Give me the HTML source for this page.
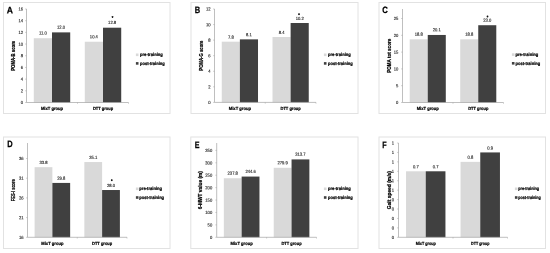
<!DOCTYPE html>
<html lang="en"><head><meta charset="utf-8"><title>Figure: outcome measures pre- and post-training</title>
<style>html,body{margin:0;padding:0;background:#fff}svg{display:block}text{font-family:"Liberation Sans",sans-serif;fill:#1a1a1a}.s{font-size:4.5px;stroke:#222;stroke-width:.12px}.b{font-size:4.5px;font-weight:bold;fill:#000;stroke:#000;stroke-width:.22px}.L{font-size:9.2px;font-weight:bold;fill:#000;stroke:#000;stroke-width:.25px}</style></head><body>
<svg width="550" height="253" viewBox="0 0 550 253">
<rect width="550" height="253" fill="#fff"/>
<g>
<rect x="3.5" y="2.5" width="166.5" height="111" fill="#fff" stroke="#e2e2e2" stroke-width="1"/>
<text transform="rotate(.03 6.8 13.2)" class="L" x="6.8" y="13.2" textLength="6.2" lengthAdjust="spacingAndGlyphs">A</text>
<rect x="33.78" y="38.22" width="18.22" height="64.28" fill="#d9d9d9"/>
<text transform="rotate(.03 42.89 34.63) translate(42.89 0) scale(.92 1) translate(-42.89 0)" class="s" text-anchor="middle" x="42.89" y="34.63">11.0</text>
<rect x="52" y="32.38" width="18.22" height="70.12" fill="#404040"/>
<text transform="rotate(.03 61.11 28.79) translate(61.11 0) scale(.92 1) translate(-61.11 0)" class="s" text-anchor="middle" x="61.11" y="28.79">12.0</text>
<rect x="84.78" y="41.73" width="18.22" height="60.77" fill="#d9d9d9"/>
<text transform="rotate(.03 93.89 38.14) translate(93.89 0) scale(.92 1) translate(-93.89 0)" class="s" text-anchor="middle" x="93.89" y="38.14">10.4</text>
<rect x="103" y="27.7" width="18.22" height="74.8" fill="#404040"/>
<text transform="rotate(.03 112.11 24.11) translate(112.11 0) scale(.92 1) translate(-112.11 0)" class="s" text-anchor="middle" x="112.11" y="24.11">12.8</text>
<text transform="rotate(.03 112.41 18.9) translate(112.41 0) scale(.92 1) translate(-112.41 0)" class="s" text-anchor="middle" x="112.41" y="18.9" style="font-size:4.2px;font-weight:bold;fill:#000;stroke:#000;stroke-width:.3px">*</text>
<path d="M26.5 9V102.5H128.5" fill="none" stroke="#a4a4a4" stroke-width="0.7"/>
<path d="M26.5 102.5h-1.3M26.5 90.81h-1.3M26.5 79.12h-1.3M26.5 67.44h-1.3M26.5 55.75h-1.3M26.5 44.06h-1.3M26.5 32.38h-1.3M26.5 20.69h-1.3M26.5 9h-1.3M77.5 102.5v1.2M128.5 102.5v1.2" fill="none" stroke="#a4a4a4" stroke-width="0.6"/>
<text transform="rotate(.03 23.1 104.11) translate(23.1 0) scale(.92 1) translate(-23.1 0)" class="s" text-anchor="end" x="23.1" y="104.11">0</text>
<text transform="rotate(.03 23.1 92.42) translate(23.1 0) scale(.92 1) translate(-23.1 0)" class="s" text-anchor="end" x="23.1" y="92.42">2</text>
<text transform="rotate(.03 23.1 80.74) translate(23.1 0) scale(.92 1) translate(-23.1 0)" class="s" text-anchor="end" x="23.1" y="80.74">4</text>
<text transform="rotate(.03 23.1 69.05) translate(23.1 0) scale(.92 1) translate(-23.1 0)" class="s" text-anchor="end" x="23.1" y="69.05">6</text>
<text transform="rotate(.03 23.1 57.36) translate(23.1 0) scale(.92 1) translate(-23.1 0)" class="s" text-anchor="end" x="23.1" y="57.36">8</text>
<text transform="rotate(.03 23.1 45.67) translate(23.1 0) scale(.92 1) translate(-23.1 0)" class="s" text-anchor="end" x="23.1" y="45.67">10</text>
<text transform="rotate(.03 23.1 33.99) translate(23.1 0) scale(.92 1) translate(-23.1 0)" class="s" text-anchor="end" x="23.1" y="33.99">12</text>
<text transform="rotate(.03 23.1 22.3) translate(23.1 0) scale(.92 1) translate(-23.1 0)" class="s" text-anchor="end" x="23.1" y="22.3">14</text>
<text transform="rotate(.03 23.1 10.61) translate(23.1 0) scale(.92 1) translate(-23.1 0)" class="s" text-anchor="end" x="23.1" y="10.61">16</text>
<text class="b" text-anchor="middle" textLength="30" lengthAdjust="spacingAndGlyphs" transform="translate(15.01 55.75) rotate(-90)">POMA-B score</text>
<text transform="rotate(.03 52 110.11)" class="b" text-anchor="middle" textLength="22.2" lengthAdjust="spacingAndGlyphs" x="52" y="110.11">MixT group</text>
<text transform="rotate(.03 103 110.11)" class="b" text-anchor="middle" textLength="20.2" lengthAdjust="spacingAndGlyphs" x="103" y="110.11">DTT group</text>
<rect x="135.9" y="53.5" width="2.6" height="2.6" fill="#d9d9d9"/>
<text transform="rotate(.03 140 56.11)" class="b" textLength="22.8" lengthAdjust="spacingAndGlyphs" x="140" y="56.11">pre-training</text>
<rect x="135.9" y="62.1" width="2.6" height="2.6" fill="#404040"/>
<text transform="rotate(.03 140 64.71)" class="b" textLength="24.8" lengthAdjust="spacingAndGlyphs" x="140" y="64.71">post-training</text>
</g>
<g>
<rect x="191" y="2.5" width="167" height="111" fill="#fff" stroke="#e2e2e2" stroke-width="1"/>
<text transform="rotate(.03 194.8 13.2)" class="L" x="194.8" y="13.2" textLength="5.4" lengthAdjust="spacingAndGlyphs">B</text>
<rect x="221.75" y="41.69" width="18.13" height="60.71" fill="#d9d9d9"/>
<text transform="rotate(.03 230.81 38.7) translate(230.81 0) scale(.92 1) translate(-230.81 0)" class="s" text-anchor="middle" x="230.81" y="38.7">7.8</text>
<rect x="239.88" y="39.36" width="18.13" height="63.05" fill="#404040"/>
<text transform="rotate(.03 248.94 36.37) translate(248.94 0) scale(.92 1) translate(-248.94 0)" class="s" text-anchor="middle" x="248.94" y="36.37">8.1</text>
<rect x="272.5" y="37.02" width="18.13" height="65.38" fill="#d9d9d9"/>
<text transform="rotate(.03 281.56 34.03) translate(281.56 0) scale(.92 1) translate(-281.56 0)" class="s" text-anchor="middle" x="281.56" y="34.03">8.4</text>
<rect x="290.62" y="23.01" width="18.13" height="79.39" fill="#404040"/>
<text transform="rotate(.03 299.69 20.02) translate(299.69 0) scale(.92 1) translate(-299.69 0)" class="s" text-anchor="middle" x="299.69" y="20.02">10.2</text>
<text transform="rotate(.03 298.99 16.21) translate(298.99 0) scale(.92 1) translate(-298.99 0)" class="s" text-anchor="middle" x="298.99" y="16.21" style="font-size:4.2px;font-weight:bold;fill:#000;stroke:#000;stroke-width:.3px">*</text>
<path d="M214.5 9V102.4H316" fill="none" stroke="#a4a4a4" stroke-width="0.7"/>
<path d="M214.5 102.4h-1.3M214.5 86.83h-1.3M214.5 71.27h-1.3M214.5 55.7h-1.3M214.5 40.13h-1.3M214.5 24.57h-1.3M214.5 9h-1.3M265.25 102.4v1.2M316 102.4v1.2" fill="none" stroke="#a4a4a4" stroke-width="0.6"/>
<text transform="rotate(.03 210.6 104.01) translate(210.6 0) scale(.92 1) translate(-210.6 0)" class="s" text-anchor="end" x="210.6" y="104.01">0</text>
<text transform="rotate(.03 210.6 88.44) translate(210.6 0) scale(.92 1) translate(-210.6 0)" class="s" text-anchor="end" x="210.6" y="88.44">2</text>
<text transform="rotate(.03 210.6 72.88) translate(210.6 0) scale(.92 1) translate(-210.6 0)" class="s" text-anchor="end" x="210.6" y="72.88">4</text>
<text transform="rotate(.03 210.6 57.31) translate(210.6 0) scale(.92 1) translate(-210.6 0)" class="s" text-anchor="end" x="210.6" y="57.31">6</text>
<text transform="rotate(.03 210.6 41.74) translate(210.6 0) scale(.92 1) translate(-210.6 0)" class="s" text-anchor="end" x="210.6" y="41.74">8</text>
<text transform="rotate(.03 210.6 26.18) translate(210.6 0) scale(.92 1) translate(-210.6 0)" class="s" text-anchor="end" x="210.6" y="26.18">10</text>
<text transform="rotate(.03 210.6 10.61) translate(210.6 0) scale(.92 1) translate(-210.6 0)" class="s" text-anchor="end" x="210.6" y="10.61">12</text>
<text class="b" text-anchor="middle" textLength="30" lengthAdjust="spacingAndGlyphs" transform="translate(202.61 55.7) rotate(-90)">POMA-G score</text>
<text transform="rotate(.03 239.88 110.11)" class="b" text-anchor="middle" textLength="22.2" lengthAdjust="spacingAndGlyphs" x="239.88" y="110.11">MixT group</text>
<text transform="rotate(.03 290.62 110.11)" class="b" text-anchor="middle" textLength="20.2" lengthAdjust="spacingAndGlyphs" x="290.62" y="110.11">DTT group</text>
<rect x="323.9" y="53.5" width="2.6" height="2.6" fill="#d9d9d9"/>
<text transform="rotate(.03 328 56.11)" class="b" textLength="22.8" lengthAdjust="spacingAndGlyphs" x="328" y="56.11">pre-training</text>
<rect x="323.9" y="62.1" width="2.6" height="2.6" fill="#404040"/>
<text transform="rotate(.03 328 64.71)" class="b" textLength="24.8" lengthAdjust="spacingAndGlyphs" x="328" y="64.71">post-training</text>
</g>
<g>
<rect x="379" y="2.5" width="166.5" height="111" fill="#fff" stroke="#e2e2e2" stroke-width="1"/>
<text transform="rotate(.03 382.3 13.2)" class="L" x="382.3" y="13.2" textLength="5.6" lengthAdjust="spacingAndGlyphs">C</text>
<rect x="409.71" y="39.33" width="18.04" height="63.17" fill="#d9d9d9"/>
<text transform="rotate(.03 418.73 35.74) translate(418.73 0) scale(.92 1) translate(-418.73 0)" class="s" text-anchor="middle" x="418.73" y="35.74">18.8</text>
<rect x="427.75" y="34.96" width="18.04" height="67.54" fill="#404040"/>
<text transform="rotate(.03 436.77 31.38) translate(436.77 0) scale(.92 1) translate(-436.77 0)" class="s" text-anchor="middle" x="436.77" y="31.38">20.1</text>
<rect x="460.21" y="39.33" width="18.04" height="63.17" fill="#d9d9d9"/>
<text transform="rotate(.03 469.23 35.74) translate(469.23 0) scale(.92 1) translate(-469.23 0)" class="s" text-anchor="middle" x="469.23" y="35.74">18.8</text>
<rect x="478.25" y="25.22" width="18.04" height="77.28" fill="#404040"/>
<text transform="rotate(.03 487.27 21.63) translate(487.27 0) scale(.92 1) translate(-487.27 0)" class="s" text-anchor="middle" x="487.27" y="21.63">23.0</text>
<text transform="rotate(.03 487.57 18.42) translate(487.57 0) scale(.92 1) translate(-487.57 0)" class="s" text-anchor="middle" x="487.57" y="18.42" style="font-size:4.2px;font-weight:bold;fill:#000;stroke:#000;stroke-width:.3px">*</text>
<path d="M402.5 9V102.5H503.5" fill="none" stroke="#a4a4a4" stroke-width="0.7"/>
<path d="M402.5 102.5h-1.3M402.5 85.7h-1.3M402.5 68.9h-1.3M402.5 52.1h-1.3M402.5 35.3h-1.3M402.5 18.5h-1.3M453 102.5v1.2M503.5 102.5v1.2" fill="none" stroke="#a4a4a4" stroke-width="0.6"/>
<text transform="rotate(.03 398.3 104.11) translate(398.3 0) scale(.92 1) translate(-398.3 0)" class="s" text-anchor="end" x="398.3" y="104.11">0</text>
<text transform="rotate(.03 398.3 87.31) translate(398.3 0) scale(.92 1) translate(-398.3 0)" class="s" text-anchor="end" x="398.3" y="87.31">5</text>
<text transform="rotate(.03 398.3 70.51) translate(398.3 0) scale(.92 1) translate(-398.3 0)" class="s" text-anchor="end" x="398.3" y="70.51">10</text>
<text transform="rotate(.03 398.3 53.71) translate(398.3 0) scale(.92 1) translate(-398.3 0)" class="s" text-anchor="end" x="398.3" y="53.71">15</text>
<text transform="rotate(.03 398.3 36.91) translate(398.3 0) scale(.92 1) translate(-398.3 0)" class="s" text-anchor="end" x="398.3" y="36.91">20</text>
<text transform="rotate(.03 398.3 20.11) translate(398.3 0) scale(.92 1) translate(-398.3 0)" class="s" text-anchor="end" x="398.3" y="20.11">25</text>
<text class="b" text-anchor="middle" textLength="34" lengthAdjust="spacingAndGlyphs" transform="translate(391.11 55.75) rotate(-90)">POMA tot score</text>
<text transform="rotate(.03 427.75 110.11)" class="b" text-anchor="middle" textLength="22.2" lengthAdjust="spacingAndGlyphs" x="427.75" y="110.11">MixT group</text>
<text transform="rotate(.03 478.25 110.11)" class="b" text-anchor="middle" textLength="20.2" lengthAdjust="spacingAndGlyphs" x="478.25" y="110.11">DTT group</text>
<rect x="511.9" y="53.3" width="2.6" height="2.6" fill="#d9d9d9"/>
<text transform="rotate(.03 515.5 55.91)" class="b" textLength="22.8" lengthAdjust="spacingAndGlyphs" x="515.5" y="55.91">pre-training</text>
<rect x="511.9" y="62" width="2.6" height="2.6" fill="#404040"/>
<text transform="rotate(.03 515.5 64.61)" class="b" textLength="24.8" lengthAdjust="spacingAndGlyphs" x="515.5" y="64.61">post-training</text>
</g>
<g>
<rect x="3.5" y="137" width="166.5" height="111.5" fill="#fff" stroke="#e2e2e2" stroke-width="1"/>
<text transform="rotate(.03 7.3 147.2)" class="L" x="7.3" y="147.2" textLength="5.4" lengthAdjust="spacingAndGlyphs">D</text>
<rect x="34.6" y="167.17" width="17.77" height="70.13" fill="#d9d9d9"/>
<text transform="rotate(.03 43.49 164.08) translate(43.49 0) scale(.92 1) translate(-43.49 0)" class="s" text-anchor="middle" x="43.49" y="164.08">33.8</text>
<rect x="52.38" y="182.93" width="17.77" height="54.37" fill="#404040"/>
<text transform="rotate(.03 61.26 179.84) translate(61.26 0) scale(.92 1) translate(-61.26 0)" class="s" text-anchor="middle" x="61.26" y="179.84">29.8</text>
<rect x="84.35" y="162.05" width="17.77" height="75.25" fill="#d9d9d9"/>
<text transform="rotate(.03 93.24 158.96) translate(93.24 0) scale(.92 1) translate(-93.24 0)" class="s" text-anchor="middle" x="93.24" y="158.96">35.1</text>
<rect x="102.12" y="190.02" width="17.77" height="47.28" fill="#404040"/>
<text transform="rotate(.03 111.01 186.93) translate(111.01 0) scale(.92 1) translate(-111.01 0)" class="s" text-anchor="middle" x="111.01" y="186.93">28.0</text>
<text transform="rotate(.03 111.81 182.22) translate(111.81 0) scale(.92 1) translate(-111.81 0)" class="s" text-anchor="middle" x="111.81" y="182.22" style="font-size:4.2px;font-weight:bold;fill:#000;stroke:#000;stroke-width:.3px">*</text>
<path d="M27.5 143V237.3H127" fill="none" stroke="#a4a4a4" stroke-width="0.7"/>
<path d="M27.5 237.3h-1.3M27.5 217.6h-1.3M27.5 197.9h-1.3M27.5 178.2h-1.3M27.5 158.5h-1.3M77.25 237.3v1.2M127 237.3v1.2" fill="none" stroke="#a4a4a4" stroke-width="0.6"/>
<text transform="rotate(.03 23.6 238.91) translate(23.6 0) scale(.92 1) translate(-23.6 0)" class="s" text-anchor="end" x="23.6" y="238.91">16</text>
<text transform="rotate(.03 23.6 219.21) translate(23.6 0) scale(.92 1) translate(-23.6 0)" class="s" text-anchor="end" x="23.6" y="219.21">21</text>
<text transform="rotate(.03 23.6 199.51) translate(23.6 0) scale(.92 1) translate(-23.6 0)" class="s" text-anchor="end" x="23.6" y="199.51">26</text>
<text transform="rotate(.03 23.6 179.81) translate(23.6 0) scale(.92 1) translate(-23.6 0)" class="s" text-anchor="end" x="23.6" y="179.81">31</text>
<text transform="rotate(.03 23.6 160.11) translate(23.6 0) scale(.92 1) translate(-23.6 0)" class="s" text-anchor="end" x="23.6" y="160.11">36</text>
<text class="b" text-anchor="middle" textLength="22" lengthAdjust="spacingAndGlyphs" transform="translate(15.31 190.15) rotate(-90)">FES-I score</text>
<text transform="rotate(.03 52.38 244.81)" class="b" text-anchor="middle" textLength="22.2" lengthAdjust="spacingAndGlyphs" x="52.38" y="244.81">MixT group</text>
<text transform="rotate(.03 102.12 244.81)" class="b" text-anchor="middle" textLength="20.2" lengthAdjust="spacingAndGlyphs" x="102.12" y="244.81">DTT group</text>
<rect x="135.9" y="187.5" width="2.6" height="2.6" fill="#d9d9d9"/>
<text transform="rotate(.03 139.3 190.11)" class="b" textLength="22.8" lengthAdjust="spacingAndGlyphs" x="139.3" y="190.11">pre-training</text>
<rect x="135.9" y="196.2" width="2.6" height="2.6" fill="#404040"/>
<text transform="rotate(.03 139.3 198.81)" class="b" textLength="24.8" lengthAdjust="spacingAndGlyphs" x="139.3" y="198.81">post-training</text>
</g>
<g>
<rect x="190.8" y="137" width="167.2" height="111.5" fill="#fff" stroke="#e2e2e2" stroke-width="1"/>
<text transform="rotate(.03 194.8 147.6)" class="L" x="194.8" y="147.6" textLength="4.8" lengthAdjust="spacingAndGlyphs">E</text>
<rect x="223.83" y="178.25" width="17.82" height="59.05" fill="#d9d9d9"/>
<text transform="rotate(.03 232.74 174.67) translate(232.74 0) scale(.92 1) translate(-232.74 0)" class="s" text-anchor="middle" x="232.74" y="174.67">237.8</text>
<rect x="241.65" y="176.57" width="17.82" height="60.73" fill="#404040"/>
<text transform="rotate(.03 250.56 172.98) translate(250.56 0) scale(.92 1) translate(-250.56 0)" class="s" text-anchor="middle" x="250.56" y="172.98">244.6</text>
<rect x="273.73" y="167.8" width="17.82" height="69.5" fill="#d9d9d9"/>
<text transform="rotate(.03 282.64 164.21) translate(282.64 0) scale(.92 1) translate(-282.64 0)" class="s" text-anchor="middle" x="282.64" y="164.21">279.9</text>
<rect x="291.55" y="159.41" width="17.82" height="77.89" fill="#404040"/>
<text transform="rotate(.03 300.46 155.82) translate(300.46 0) scale(.92 1) translate(-300.46 0)" class="s" text-anchor="middle" x="300.46" y="155.82">313.7</text>
<path d="M216.7 143V237.3H316.5" fill="none" stroke="#a4a4a4" stroke-width="0.7"/>
<path d="M216.7 237.3h-1.3M216.7 224.89h-1.3M216.7 212.47h-1.3M216.7 200.06h-1.3M216.7 187.64h-1.3M216.7 175.23h-1.3M216.7 162.81h-1.3M216.7 150.4h-1.3M266.6 237.3v1.2M316.5 237.3v1.2" fill="none" stroke="#a4a4a4" stroke-width="0.6"/>
<text transform="rotate(.03 212.2 238.91) translate(212.2 0) scale(.92 1) translate(-212.2 0)" class="s" text-anchor="end" x="212.2" y="238.91">0</text>
<text transform="rotate(.03 212.2 226.5) translate(212.2 0) scale(.92 1) translate(-212.2 0)" class="s" text-anchor="end" x="212.2" y="226.5">50</text>
<text transform="rotate(.03 212.2 214.08) translate(212.2 0) scale(.92 1) translate(-212.2 0)" class="s" text-anchor="end" x="212.2" y="214.08">100</text>
<text transform="rotate(.03 212.2 201.67) translate(212.2 0) scale(.92 1) translate(-212.2 0)" class="s" text-anchor="end" x="212.2" y="201.67">150</text>
<text transform="rotate(.03 212.2 189.25) translate(212.2 0) scale(.92 1) translate(-212.2 0)" class="s" text-anchor="end" x="212.2" y="189.25">200</text>
<text transform="rotate(.03 212.2 176.84) translate(212.2 0) scale(.92 1) translate(-212.2 0)" class="s" text-anchor="end" x="212.2" y="176.84">250</text>
<text transform="rotate(.03 212.2 164.42) translate(212.2 0) scale(.92 1) translate(-212.2 0)" class="s" text-anchor="end" x="212.2" y="164.42">300</text>
<text transform="rotate(.03 212.2 152.01) translate(212.2 0) scale(.92 1) translate(-212.2 0)" class="s" text-anchor="end" x="212.2" y="152.01">350</text>
<text class="b" text-anchor="middle" textLength="38" lengthAdjust="spacingAndGlyphs" transform="translate(202.41 190.15) rotate(-90)">6-MWT value (m)</text>
<text transform="rotate(.03 241.65 244.81)" class="b" text-anchor="middle" textLength="22.2" lengthAdjust="spacingAndGlyphs" x="241.65" y="244.81">MixT group</text>
<text transform="rotate(.03 291.55 244.81)" class="b" text-anchor="middle" textLength="20.2" lengthAdjust="spacingAndGlyphs" x="291.55" y="244.81">DTT group</text>
<rect x="323.9" y="187.5" width="2.6" height="2.6" fill="#d9d9d9"/>
<text transform="rotate(.03 328 190.11)" class="b" textLength="22.8" lengthAdjust="spacingAndGlyphs" x="328" y="190.11">pre-training</text>
<rect x="323.9" y="196.2" width="2.6" height="2.6" fill="#404040"/>
<text transform="rotate(.03 328 198.81)" class="b" textLength="24.8" lengthAdjust="spacingAndGlyphs" x="328" y="198.81">post-training</text>
</g>
<g>
<rect x="379" y="137" width="166.5" height="111.5" fill="#fff" stroke="#e2e2e2" stroke-width="1"/>
<text transform="rotate(.03 382.3 147.8)" class="L" x="382.3" y="147.8" textLength="4.4" lengthAdjust="spacingAndGlyphs">F</text>
<rect x="406.05" y="171.29" width="19.7" height="66.01" fill="#d9d9d9"/>
<text transform="rotate(.03 415.9 168.3) translate(415.9 0) scale(.92 1) translate(-415.9 0)" class="s" text-anchor="middle" x="415.9" y="168.3">0.7</text>
<rect x="425.75" y="171.29" width="19.7" height="66.01" fill="#404040"/>
<text transform="rotate(.03 435.6 168.3) translate(435.6 0) scale(.92 1) translate(-435.6 0)" class="s" text-anchor="middle" x="435.6" y="168.3">0.7</text>
<rect x="460.55" y="161.86" width="19.7" height="75.44" fill="#d9d9d9"/>
<text transform="rotate(.03 470.4 158.87) translate(470.4 0) scale(.92 1) translate(-470.4 0)" class="s" text-anchor="middle" x="470.4" y="158.87">0.8</text>
<rect x="480.25" y="152.43" width="19.7" height="84.87" fill="#404040"/>
<text transform="rotate(.03 490.1 149.44) translate(490.1 0) scale(.92 1) translate(-490.1 0)" class="s" text-anchor="middle" x="490.1" y="149.44">0.9</text>
<path d="M398.5 143V237.3H507.5" fill="none" stroke="#a4a4a4" stroke-width="0.7"/>
<path d="M398.5 237.3h-1.3M398.5 227.87h-1.3M398.5 218.44h-1.3M398.5 209.01h-1.3M398.5 199.58h-1.3M398.5 190.15h-1.3M398.5 180.72h-1.3M398.5 171.29h-1.3M398.5 161.86h-1.3M398.5 152.43h-1.3M398.5 143h-1.3M453 237.3v1.2M507.5 237.3v1.2" fill="none" stroke="#a4a4a4" stroke-width="0.6"/>
<text transform="rotate(.03 394 238.91) translate(394 0) scale(.92 1) translate(-394 0)" class="s" text-anchor="end" x="394" y="238.91">0</text>
<text transform="rotate(.03 394 229.48) translate(394 0) scale(.92 1) translate(-394 0)" class="s" text-anchor="end" x="394" y="229.48">0</text>
<text transform="rotate(.03 394 220.05) translate(394 0) scale(.92 1) translate(-394 0)" class="s" text-anchor="end" x="394" y="220.05">0</text>
<text transform="rotate(.03 394 210.62) translate(394 0) scale(.92 1) translate(-394 0)" class="s" text-anchor="end" x="394" y="210.62">0</text>
<text transform="rotate(.03 394 201.19) translate(394 0) scale(.92 1) translate(-394 0)" class="s" text-anchor="end" x="394" y="201.19">0</text>
<text transform="rotate(.03 394 191.76) translate(394 0) scale(.92 1) translate(-394 0)" class="s" text-anchor="end" x="394" y="191.76">1</text>
<text transform="rotate(.03 394 182.33) translate(394 0) scale(.92 1) translate(-394 0)" class="s" text-anchor="end" x="394" y="182.33">1</text>
<text transform="rotate(.03 394 172.9) translate(394 0) scale(.92 1) translate(-394 0)" class="s" text-anchor="end" x="394" y="172.9">1</text>
<text transform="rotate(.03 394 163.47) translate(394 0) scale(.92 1) translate(-394 0)" class="s" text-anchor="end" x="394" y="163.47">1</text>
<text transform="rotate(.03 394 154.04) translate(394 0) scale(.92 1) translate(-394 0)" class="s" text-anchor="end" x="394" y="154.04">1</text>
<text transform="rotate(.03 394 144.61) translate(394 0) scale(.92 1) translate(-394 0)" class="s" text-anchor="end" x="394" y="144.61">1</text>
<text class="b" text-anchor="middle" textLength="38" lengthAdjust="spacingAndGlyphs" transform="translate(390.61 190.15) rotate(-90)">Gait speed (m/s)</text>
<text transform="rotate(.03 425.75 244.81)" class="b" text-anchor="middle" textLength="20.2" lengthAdjust="spacingAndGlyphs" x="425.75" y="244.81">MixT group</text>
<text transform="rotate(.03 480.25 244.81)" class="b" text-anchor="middle" textLength="18.38" lengthAdjust="spacingAndGlyphs" x="480.25" y="244.81">DTT group</text>
<rect x="514.9" y="187.5" width="2.6" height="2.6" fill="#d9d9d9"/>
<text transform="rotate(.03 518.3 190.11)" class="b" textLength="20.75" lengthAdjust="spacingAndGlyphs" x="518.3" y="190.11">pre-training</text>
<rect x="514.9" y="196.2" width="2.6" height="2.6" fill="#404040"/>
<text transform="rotate(.03 518.3 198.81)" class="b" textLength="22.57" lengthAdjust="spacingAndGlyphs" x="518.3" y="198.81">post-training</text>
</g>
</svg></body></html>
